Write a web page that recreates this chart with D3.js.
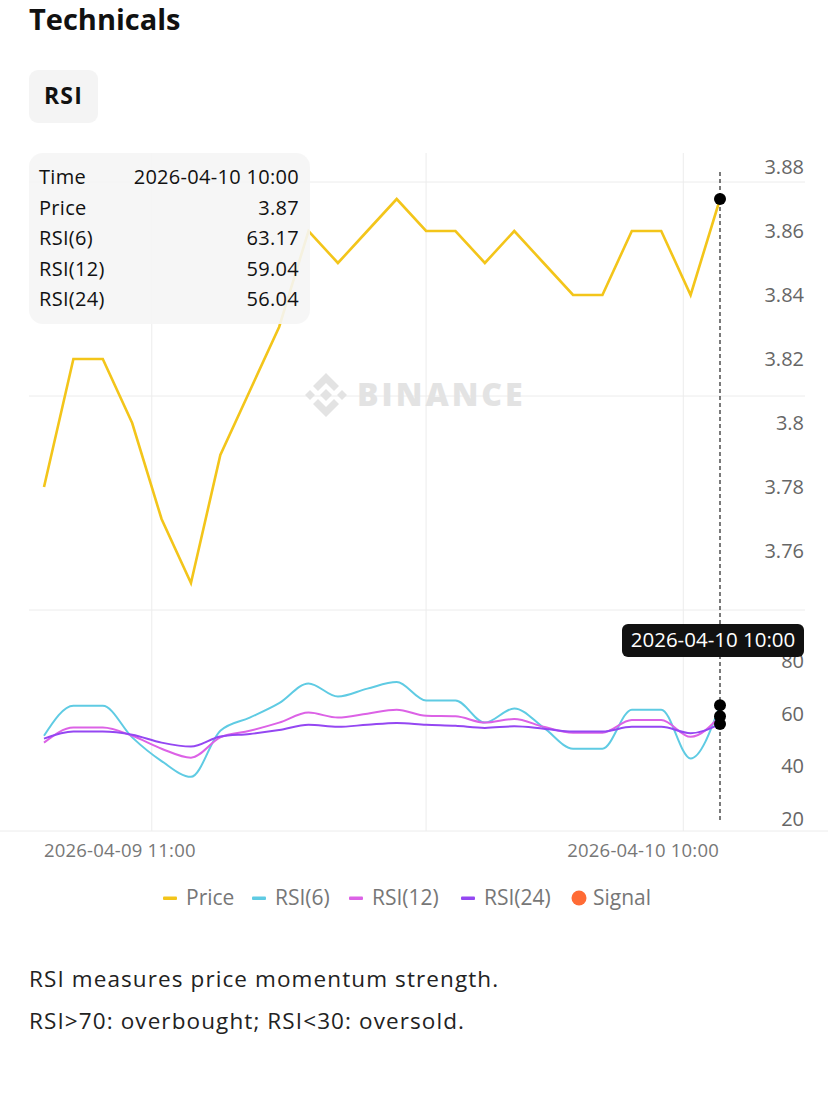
<!DOCTYPE html>
<html>
<head>
<meta charset="utf-8">
<script src="https://cdn.jsdelivr.net/npm/d3@7"></script>
<style>
  body { margin: 0; background: #fff; }
  svg { display: block; font-family: "Open Sans", Lato, sans-serif; }
</style>
</head>
<body>
<svg id="chart" width="828" height="1104"></svg>
<script>
// hourly candles, 2026-04-09 11:00 .. 2026-04-10 10:00
const times = [
  '2026-04-09 11:00', '2026-04-09 12:00', '2026-04-09 13:00', '2026-04-09 14:00',
  '2026-04-09 15:00', '2026-04-09 16:00', '2026-04-09 17:00', '2026-04-09 18:00',
  '2026-04-09 19:00', '2026-04-09 20:00', '2026-04-09 21:00', '2026-04-09 22:00',
  '2026-04-09 23:00', '2026-04-10 00:00', '2026-04-10 01:00', '2026-04-10 02:00',
  '2026-04-10 03:00', '2026-04-10 04:00', '2026-04-10 05:00', '2026-04-10 06:00',
  '2026-04-10 07:00', '2026-04-10 08:00', '2026-04-10 09:00', '2026-04-10 10:00'
];
const price = [3.78, 3.82, 3.82, 3.80, 3.77, 3.75, 3.79, 3.81, 3.83, 3.86, 3.85, 3.86,
  3.87, 3.86, 3.86, 3.85, 3.86, 3.85, 3.84, 3.84, 3.86, 3.86, 3.84, 3.87];
const rsi6 = [51.6, 63, 63, 51, 42, 36, 53.5, 58.5, 64, 71.5, 66.5, 69.5,
  72, 65, 65, 56.6, 62, 54.7, 46.7, 46.7, 61.5, 61.5, 43, 63.17];
const rsi12 = [49, 54.7, 54.7, 51.6, 46.7, 43.3, 51, 53.5, 56.6, 60.4, 58.5, 60,
  61.5, 59.2, 59, 56.6, 58, 55, 52.8, 52.8, 57.6, 57.6, 51.2, 59.04];
const rsi24 = [50.5, 53.2, 53.2, 52, 49, 47.5, 51.3, 52.3, 53.8, 55.8, 55, 55.8,
  56.5, 55.8, 55.4, 54.6, 55.2, 54.3, 53.2, 53.2, 55, 55, 52.6, 56.04];

const priceTicks = [3.76, 3.78, 3.8, 3.82, 3.84, 3.86, 3.88];
const rsiTicks = [20, 40, 60, 80];
const gridTimes = ['2026-04-09 14:40', '2026-04-10 00:00', '2026-04-10 08:45'];
const xLabels = ['2026-04-09 11:00', '2026-04-10 10:00'];

const tipRows = [['Time', '2026-04-10 10:00'], ['Price', '3.87'], ['RSI(6)', '63.17'],
  ['RSI(12)', '59.04'], ['RSI(24)', '56.04']];
const legendItems = ['Price', 'RSI(6)', 'RSI(12)', 'RSI(24)', 'Signal'];
const colors = ['#F3C51A', '#5FCBE3', '#DC62E6', '#9447F2', '#FF6B35'];

const parse = d3.timeParse('%Y-%m-%d %H:%M');
const dates = times.map(parse);
const last = dates.length - 1;

const svg = d3.select('#chart');

const x = d3.scaleTime().domain(d3.extent(dates)).range([44, 720]);
const yP = d3.scaleLinear().domain([3.76, 3.88]).range([551, 167]);
const yR = d3.scaleLinear().domain([20, 80]).range([819, 661]);

// title + tab
svg.append('text').attr('x', 29).attr('y', 30)
    .attr('font-size', 29).attr('font-weight', 700).attr('fill', '#111')
    .text('Technicals');
svg.append('rect').attr('x', 29).attr('y', 70).attr('width', 69).attr('height', 53)
    .attr('rx', 9).attr('fill', '#f4f4f4');
svg.append('text').attr('x', 63.5).attr('y', 104).attr('text-anchor', 'middle')
    .attr('font-size', 23).attr('font-weight', 700).attr('letter-spacing', 1.2)
    .attr('fill', '#111').text('RSI');

// grid
const grid = svg.append('g').attr('stroke', '#ececec').attr('stroke-width', 1);
[182, 396, 610].forEach(y => {
  grid.append('line').attr('x1', 29).attr('x2', 805).attr('y1', y).attr('y2', y);
});
gridTimes.forEach(t => {
  const gx = x(parse(t));
  grid.append('line').attr('x1', gx).attr('x2', gx).attr('y1', 153).attr('y2', 831);
});
grid.append('line').attr('x1', 0).attr('x2', 828).attr('y1', 831).attr('y2', 831);

// watermark
const wm = svg.append('g').attr('fill', '#e3e3e3').attr('transform', 'translate(326,395)');
wm.append('path').attr('d', 'M0,-22 L13,-9 L8,-4 L0,-12 L-8,-4 L-13,-9 Z');
wm.append('path').attr('d', 'M0,22 L13,9 L8,4 L0,12 L-8,4 L-13,9 Z');
wm.append('path').attr('d', 'M0,-6 L6,0 L0,6 L-6,0 Z');
wm.append('path').attr('d', 'M-16,-5 L-11,0 L-16,5 L-21,0 Z');
wm.append('path').attr('d', 'M16,-5 L21,0 L16,5 L11,0 Z');
svg.append('text').attr('x', 357).attr('y', 406)
    .attr('font-size', 32).attr('font-weight', 800).attr('letter-spacing', 3)
    .attr('fill', '#e3e3e3').text('BINANCE');

// axis labels
svg.append('g').selectAll('text').data(priceTicks).join('text')
    .attr('x', 804).attr('y', d => yP(d)).attr('dy', '0.35em')
    .attr('text-anchor', 'end').attr('font-size', 20).attr('fill', '#666')
    .text(d => d3.format('')(d));
svg.append('g').selectAll('text').data(rsiTicks).join('text')
    .attr('x', 804).attr('y', d => yR(d)).attr('dy', '0.35em')
    .attr('text-anchor', 'end').attr('font-size', 20).attr('fill', '#666')
    .text(d => d);
svg.append('g').selectAll('text').data(xLabels).join('text')
    .attr('x', (d, i) => x(parse(d)) + (i === 0 ? 0 : -1))
    .attr('y', 857)
    .attr('text-anchor', (d, i) => i === 0 ? 'start' : 'end')
    .attr('font-size', 18.5).attr('letter-spacing', 0.2).attr('fill', '#777')
    .text(d => d);

// lines
const priceLine = d3.line().x((d, i) => x(dates[i])).y(d => yP(d));
svg.append('path').datum(price)
    .attr('fill', 'none').attr('stroke', colors[0]).attr('stroke-width', 2.6)
    .attr('stroke-linejoin', 'miter').attr('d', priceLine);

const rsiLine = d3.line().curve(d3.curveMonotoneX)
    .x((d, i) => x(dates[i])).y(d => yR(d));
[rsi6, rsi12, rsi24].forEach((s, k) => {
  svg.append('path').datum(s)
      .attr('fill', 'none').attr('stroke', colors[k + 1]).attr('stroke-width', 2)
      .attr('d', rsiLine);
});

// crosshair
const cx = x(dates[last]);
svg.append('line').attr('x1', cx).attr('x2', cx).attr('y1', 172).attr('y2', 820)
    .attr('stroke', '#222').attr('stroke-width', 1.2).attr('stroke-dasharray', '4,3');
svg.append('circle').attr('cx', cx).attr('cy', yP(price[last])).attr('r', 6).attr('fill', '#000');
[rsi6, rsi12, rsi24].forEach(s => {
  svg.append('circle').attr('cx', cx).attr('cy', yR(s[last])).attr('r', 6).attr('fill', '#000');
});

// tooltip
svg.append('rect').attr('x', 29).attr('y', 153).attr('width', 281).attr('height', 171)
    .attr('rx', 14).attr('fill', '#f5f5f5').attr('fill-opacity', 0.9);
const tip = svg.append('g').attr('font-size', 20).attr('letter-spacing', 0.3).attr('fill', '#111');
tipRows.forEach((r, i) => {
  const ty = 184 + i * 30.5;
  tip.append('text').attr('x', 39).attr('y', ty).text(r[0]);
  tip.append('text').attr('x', 299).attr('y', ty).attr('text-anchor', 'end').text(r[1]);
});

// time badge
svg.append('rect').attr('x', 622).attr('y', 624).attr('width', 182).attr('height', 33)
    .attr('rx', 6).attr('fill', '#111');
svg.append('text').attr('x', 713).attr('y', 647)
    .attr('text-anchor', 'middle').attr('font-size', 20.5).attr('fill', '#fff')
    .text(times[last]);

// legend
const legendX = [163, 252, 349, 461, 572];
const lg = svg.append('g');
legendItems.forEach((name, i) => {
  const g = lg.append('g').attr('transform', `translate(${legendX[i]},898)`);
  if (name === 'Signal') {
    g.append('circle').attr('cx', 7).attr('cy', 0).attr('r', 7.5).attr('fill', colors[i]);
  } else {
    g.append('rect').attr('x', 0).attr('y', -1.5).attr('width', 14).attr('height', 3.5)
        .attr('rx', 1).attr('fill', colors[i]);
  }
  g.append('text').attr('x', name === 'Signal' ? 21 : 23).attr('y', 0).attr('dy', '0.35em')
      .attr('font-size', 21).attr('fill', '#777').text(name);
});

// notes
svg.append('text').attr('x', 29).attr('y', 987).attr('font-size', 22.5)
    .attr('letter-spacing', 1.1).attr('fill', '#222')
    .text('RSI measures price momentum strength.');
svg.append('text').attr('x', 29).attr('y', 1029).attr('font-size', 22.5)
    .attr('letter-spacing', 1.1).attr('fill', '#222')
    .text('RSI>70: overbought; RSI<30: oversold.');
</script>
</body>
</html>
